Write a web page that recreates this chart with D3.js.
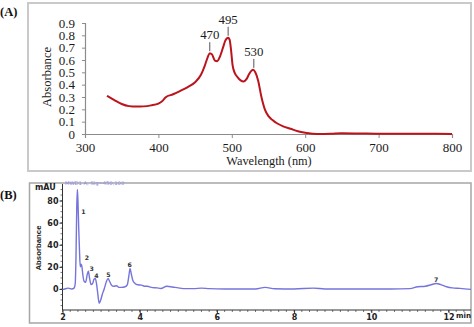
<!DOCTYPE html>
<html>
<head>
<meta charset="utf-8">
<script src="https://cdn.jsdelivr.net/npm/d3@7"></script>
<style>
  html, body { margin: 0; padding: 0; background: #fff; }
  svg { display: block; }
</style>
</head>
<body>
<svg id="fig" width="474" height="327"></svg>
<script>
// ---- (A) UV-Vis absorption spectrum ----
const wavelengths = [330, 340, 350, 360, 370, 380, 390, 400, 405, 410, 420, 430, 440, 450, 458, 463, 467, 470, 473, 477, 480, 484, 488, 491, 495, 497, 499, 501, 504, 508, 512, 516, 520, 524, 529, 532, 536, 540, 545, 550, 555, 562, 570, 580, 590, 600, 610, 620, 635, 650, 675, 700, 750, 800];
const absorbance  = [0.31, 0.275, 0.243, 0.226, 0.222, 0.224, 0.232, 0.246, 0.265, 0.298, 0.322, 0.35, 0.38, 0.42, 0.48, 0.55, 0.62, 0.655, 0.645, 0.595, 0.59, 0.63, 0.70, 0.755, 0.78, 0.765, 0.68, 0.56, 0.495, 0.46, 0.435, 0.425, 0.445, 0.49, 0.52, 0.5, 0.43, 0.31, 0.2, 0.145, 0.115, 0.085, 0.062, 0.042, 0.022, 0.01, 0.003, 0.0, 0.002, 0.006, 0.004, 0.002, 0.002, 0.001];
const peakWavelengths = [470, 495, 530];
const peakAbsorbance  = [0.655, 0.78, 0.52];
const absTicks = [0, 0.1, 0.2, 0.3, 0.4, 0.5, 0.6, 0.7, 0.8, 0.9];
const wlTicks = [300, 400, 500, 600, 700, 800];

// ---- (B) HPLC chromatogram ----
const times = [2.0, 2.1, 2.15, 2.24, 2.3, 2.33, 2.35, 2.37, 2.385, 2.40, 2.42, 2.44, 2.46, 2.48, 2.50, 2.53, 2.56, 2.60, 2.64, 2.67, 2.70, 2.74, 2.78, 2.82, 2.85, 2.88, 2.91, 2.95, 2.99, 3.03, 3.08, 3.13, 3.18, 3.22, 3.27, 3.33, 3.40, 3.46, 3.53, 3.62, 3.68, 3.72, 3.75, 3.78, 3.82, 3.88, 3.95, 4.05, 4.12, 4.2, 4.3, 4.45, 4.55, 4.7, 4.85, 5.0, 5.2, 5.4, 5.6, 5.8, 6.2, 6.6, 7.0, 7.25, 7.5, 8.0, 8.5, 8.8, 9.5, 10.5, 11.0, 11.2, 11.4, 11.55, 11.68, 11.8, 11.95, 12.1, 12.3, 12.58];
const signal = [-0.5, 0.5, 0.8, 0, 0.8, 5, 30, 75, 90, 80, 55, 35, 20, 22.5, 21, 12, 7, 6, 13, 16, 10, 4, 5, 9, 9.5, 5, -3, -13, -10, -5, 0, 6, 9.5, 7, 3.5, 2.5, 3, 1.5, 1.5, 2, 4, 12, 18.5, 14, 8, 5, 3.8, 3.5, 2.5, 2.5, 1.5, 1, 0.5, 2.5, 1.8, 1, 0.3, 0.3, 0.8, 0.3, 0, 0, 0, 1.5, 0.2, 0, 0.8, 0, 0, 0, 0.3, 2, 2.5, 3.8, 5, 4, 2, 1, 0.6, -0.3];
const peakNames = ["1", "2", "3", "4", "5", "6", "7"];
const peakTimes = [2.385, 2.48, 2.67, 2.85, 3.18, 3.75, 11.68];
const peakHeights = [90, 22.5, 16, 9.5, 9.5, 18.5, 5];
const mauTicks = [0, 20, 40, 60, 80];
const timeTicks = [2, 4, 6, 8, 10, 12];

const svg = d3.select("#fig");
const serif = "'Liberation Serif', 'Times New Roman', Times, serif";
const sans = "'DejaVu Sans', Verdana, sans-serif";

// Panel labels
svg.append("text").attr("x", 0).attr("y", 16)
  .style("font-family", serif).attr("font-weight", "bold")
  .attr("font-size", 12.5).attr("fill", "#111").text("(A)");
svg.append("text").attr("x", 0).attr("y", 199)
  .style("font-family", serif).attr("font-weight", "bold")
  .attr("font-size", 12.5).attr("fill", "#111").text("(B)");

// ===== Panel A =====
svg.append("rect").attr("x", 28).attr("y", 3).attr("width", 443).attr("height", 168)
  .attr("fill", "none").attr("stroke", "#c9c9c9").attr("stroke-width", 2);

const xA = d3.scaleLinear().domain([300, 800]).range([85, 452]);
const yA = d3.scaleLinear().domain([0, 0.9]).range([134, 23]);

const axAx = svg.append("g").attr("transform", `translate(0,${yA(0)})`)
  .call(d3.axisBottom(xA).tickValues(wlTicks).tickSize(4).tickPadding(5).tickFormat(d3.format("d")));
const ayA = svg.append("g").attr("transform", `translate(${xA(300)},0)`)
  .call(d3.axisLeft(yA).tickValues(absTicks).tickSize(3).tickPadding(7)
    .tickFormat(d => d === 0 ? "0" : d3.format(".1f")(d)));
[axAx, ayA].forEach(g => {
  g.select(".domain").attr("stroke", "#8c8c8c").attr("stroke-width", 1.2);
  g.selectAll(".tick line").attr("stroke", "#8c8c8c");
  g.selectAll(".tick text").style("font-family", serif).attr("font-size", 13).attr("fill", "#1a1a1a");
});

svg.append("text").attr("transform", `translate(51,77) rotate(-90)`)
  .attr("text-anchor", "middle").style("font-family", serif).attr("font-size", 12.6)
  .attr("fill", "#1a1a1a").text("Absorbance");
svg.append("text").attr("x", 269).attr("y", 165)
  .attr("text-anchor", "middle").style("font-family", serif).attr("font-size", 12.3)
  .attr("fill", "#1a1a1a").text("Wavelength (nm)");

const specLine = d3.line().x((d, i) => xA(wavelengths[i])).y(d => yA(d)).curve(d3.curveMonotoneX);
svg.append("path").attr("d", specLine(absorbance))
  .attr("fill", "none").attr("stroke", "#bb141c").attr("stroke-width", 2)
  .attr("stroke-linejoin", "round");

peakWavelengths.forEach((w, i) => {
  const px = xA(w), py = yA(peakAbsorbance[i]);
  svg.append("line").attr("x1", px).attr("x2", px).attr("y1", py - 2).attr("y2", py - 11)
    .attr("stroke", "#555").attr("stroke-width", 1);
  svg.append("text").attr("x", px).attr("y", py - 14).attr("text-anchor", "middle")
    .style("font-family", serif).attr("font-size", 12.8).attr("fill", "#1a1a1a").text(w);
});

// ===== Panel B =====
svg.append("rect").attr("x", 29.5).attr("y", 183).attr("width", 441.5).attr("height", 140)
  .attr("fill", "none").attr("stroke", "#a6a6a6").attr("stroke-width", 1.5);

const xB = d3.scaleLinear().domain([2, 12]).range([62.5, 448.5]);
const yB = d3.scaleLinear().domain([0, 80]).range([289, 200.6]);
const yBottom = 310, yTop = 184;
const tEnd = xB.invert(471);

// minor ticks
const minorT = d3.range(2, tEnd, 0.2);
svg.append("g").selectAll("line").data(minorT).join("line")
  .attr("x1", d => xB(d)).attr("x2", d => xB(d)).attr("y1", yBottom).attr("y2", yBottom + 2)
  .attr("stroke", "#555").attr("stroke-width", 0.8);
const minorV = d3.range(-15, 95, 5);
svg.append("g").selectAll("line").data(minorV).join("line")
  .attr("x1", xB(2) - 2).attr("x2", xB(2)).attr("y1", d => yB(d)).attr("y2", d => yB(d))
  .attr("stroke", "#555").attr("stroke-width", 0.8);

const axBx = svg.append("g").attr("transform", `translate(0,${yBottom})`)
  .call(d3.axisBottom(xB).tickValues(timeTicks).tickSize(3).tickPadding(2).tickSizeOuter(0));
axBx.select(".domain").attr("d", `M${xB(2)},0H471`);
const ayB = svg.append("g").attr("transform", `translate(${xB(2)},0)`)
  .call(d3.axisLeft(yB).tickValues(mauTicks).tickSize(3).tickPadding(1).tickSizeOuter(0));
ayB.select(".domain").attr("d", `M0,${yTop}V${yBottom}`);
[axBx, ayB].forEach(g => {
  g.select(".domain").attr("stroke", "#333").attr("stroke-width", 1);
  g.selectAll(".tick line").attr("stroke", "#333");
  g.selectAll(".tick text").style("font-family", sans).attr("font-weight", "bold")
    .attr("font-size", 8).attr("fill", "#222");
});
axBx.selectAll(".tick text").attr("dy", "0.6em");

svg.append("text").attr("x", 456).attr("y", 318)
  .style("font-family", sans).attr("font-weight", "bold").attr("font-size", 7.2)
  .attr("fill", "#222").text("min");
svg.append("text").attr("x", 35).attr("y", 190)
  .style("font-family", sans).attr("font-weight", "bold").attr("font-size", 8)
  .attr("fill", "#222").text("mAU");
svg.append("text").attr("transform", `translate(41,248) rotate(-90)`)
  .attr("text-anchor", "middle").style("font-family", "'Liberation Sans', Arial, sans-serif")
  .attr("font-weight", "bold").attr("font-size", 7.8).attr("fill", "#222").text("Absorbance");
svg.append("text").attr("x", 65).attr("y", 185)
  .style("font-family", sans).attr("font-size", 5.2).attr("fill", "#8a8ae6")
  .text("MWD1 A, Sig=450,100");

const chromLine = d3.line().x((d, i) => xB(times[i])).y(d => yB(d)).curve(d3.curveMonotoneX);
svg.append("path").attr("d", chromLine(signal))
  .attr("fill", "none").attr("stroke", "#7474dc").attr("stroke-width", 1.4)
  .attr("stroke-linejoin", "round");

// peak number labels, nudged off the trace
const labelNudge = [[6, 22], [6, -6], [3.3, -3], [1, -2.5], [0.3, -4], [-0.5, -3.6], [0, -3.5]];
peakNames.forEach((n, i) => {
  svg.append("text")
    .attr("x", xB(peakTimes[i]) + labelNudge[i][0])
    .attr("y", yB(peakHeights[i]) + labelNudge[i][1] + 2.2)
    .attr("text-anchor", "middle").style("font-family", sans).attr("font-weight", "bold")
    .attr("font-size", 6.2).attr("fill", "#333").text(n);
});
</script>
</body>
</html>
